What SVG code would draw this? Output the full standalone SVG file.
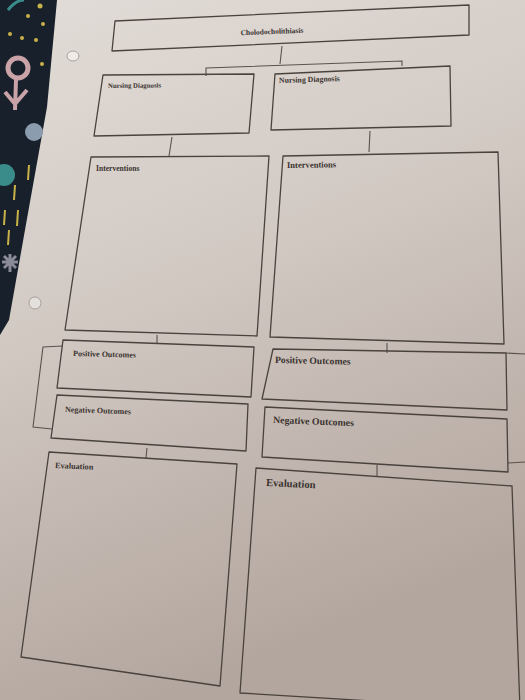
<svg xmlns="http://www.w3.org/2000/svg" width="525" height="700" viewBox="0 0 525 700">
<defs>
<linearGradient id="paper" x1="0" y1="0" x2="0.3" y2="1">
<stop offset="0" stop-color="#e2ddd8"/>
<stop offset="0.45" stop-color="#d2c9c3"/>
<stop offset="1" stop-color="#b3a69e"/>
</linearGradient>
<style>
.box{fill:none;stroke:#4a423d;stroke-width:1.3;stroke-linejoin:round}
.con{fill:none;stroke:#5a524d;stroke-width:1.1}
.lbl{font-family:"Liberation Serif","Times New Roman",serif;font-weight:bold;fill:#3a3330}
</style>
</defs>
<rect width="525" height="700" fill="url(#paper)"/>
<g id="fabric">
<polygon points="0,0 57,0 47,107 28,213 9,320 0,335" fill="#17202b"/>
<path d="M8,10 Q16,0 24,0" stroke="#3a8c8a" stroke-width="3" fill="none"/>
<circle cx="40" cy="6" r="2.5" fill="#c9b24a"/>
<circle cx="28" cy="16" r="2" fill="#c9b24a"/>
<circle cx="43" cy="24" r="2" fill="#c9b24a"/>
<circle cx="10" cy="34" r="2" fill="#c9b24a"/>
<circle cx="22" cy="38" r="2" fill="#c9b24a"/>
<circle cx="36" cy="40" r="2" fill="#c9b24a"/>
<circle cx="42" cy="64" r="2" fill="#c9b24a"/>
<circle cx="18" cy="68" r="10" fill="none" stroke="#c9a3a8" stroke-width="5"/>
<path d="M16,80 L15,110 M5,92 L15,104 L27,90" stroke="#c9a3a8" stroke-width="4" fill="none"/>
<circle cx="34" cy="132" r="9" fill="#8a9cae"/>
<circle cx="4" cy="175" r="11" fill="#3a8c8a"/>
<path d="M29,165 L28,180 M15,185 L14,200 M5,210 L4,225 M18,210 L17,226 M9,230 L8,245" stroke="#c9b24a" stroke-width="2"/>
<path d="M2,262 L18,262 M10,254 L10,272 M4,256 L16,268 M16,256 L4,268" stroke="#8a8a98" stroke-width="3"/>
</g>
<ellipse cx="73" cy="56" rx="6" ry="5" fill="#efece8" stroke="#9a918b" stroke-width="0.8"/>
<ellipse cx="35" cy="303" rx="6" ry="6" fill="#e4e0dc" stroke="#9a918b" stroke-width="0.8"/>
<g id="connectors">
<polyline class="con" points="282,46 280,64"/>
<polyline class="con" points="206,76 206,68 402,61 402,66"/>
<polyline class="con" points="172,137 169,156"/>
<polyline class="con" points="370,131 369,152"/>
<polyline class="con" points="157,335 157,344"/>
<polyline class="con" points="387,343 387,353"/>
<polyline class="con" points="63,346 43,347 33,427 52,429"/>
<polyline class="con" points="506,353 525,354"/>
<polyline class="con" points="508,463 525,462"/>
<polyline class="con" points="147,448 146,458"/>
<polyline class="con" points="377,465 377,476"/>
</g>
<g id="title">
<polygon class="box" points="115,21 469,5 469,35 112,51"/>
<text class="lbl" x="272" y="34" font-size="7.5" text-anchor="middle" transform="rotate(-2.4 272 32)">Cholodocholithiasis</text>
</g>
<g id="nursing-diagnosis-left">
<polygon class="box" points="103,75 254,74 249,133 94,136"/>
<text class="lbl" x="108" y="88" font-size="6.8" transform="rotate(-0.5 108 88)">Nursing Diagnosis</text>
</g>
<g id="nursing-diagnosis-right">
<polygon class="box" points="275,74 450,66 451,126 271,130"/>
<text class="lbl" x="279" y="83" font-size="7.8" transform="rotate(-1.8 279 83)">Nursing Diagnosis</text>
</g>
<g id="interventions-left">
<polygon class="box" points="91,157 269,156 257,336 65,330"/>
<text class="lbl" x="96" y="171" font-size="7.6">Interventions</text>
</g>
<g id="interventions-right">
<polygon class="box" points="283,156 498,152 504,344 270,337"/>
<text class="lbl" x="287" y="168" font-size="8.6" transform="rotate(-0.8 287 168)">Interventions</text>
</g>
<g id="positive-outcomes-left">
<polygon class="box" points="63,340 254,347 251,397 57,388"/>
<text class="lbl" x="73" y="356" font-size="8" transform="rotate(1.5 73 356)">Positive Outcomes</text>
</g>
<g id="positive-outcomes-right">
<polygon class="box" points="273,349 506,353 507,410 262,399"/>
<text class="lbl" x="275" y="363" font-size="9.6" transform="rotate(1.2 275 363)">Positive Outcomes</text>
</g>
<g id="negative-outcomes-left">
<polygon class="box" points="57,395 248,404 246,451 51,438"/>
<text class="lbl" x="65" y="412" font-size="8" transform="rotate(2 65 412)">Negative Outcomes</text>
</g>
<g id="negative-outcomes-right">
<polygon class="box" points="265,407 507,419 508,472 262,457"/>
<text class="lbl" x="273" y="423" font-size="9.8" transform="rotate(2.2 273 423)">Negative Outcomes</text>
</g>
<g id="evaluation-left">
<polygon class="box" points="49,452 237,464 220,686 21,657"/>
<text class="lbl" x="55" y="468" font-size="8.2" transform="rotate(2.5 55 468)">Evaluation</text>
</g>
<g id="evaluation-right">
<polygon class="box" points="256,468 512,486 520,710 240,693"/>
<text class="lbl" x="266" y="486" font-size="10.6" transform="rotate(2.5 266 486)">Evaluation</text>
</g>
</svg>
